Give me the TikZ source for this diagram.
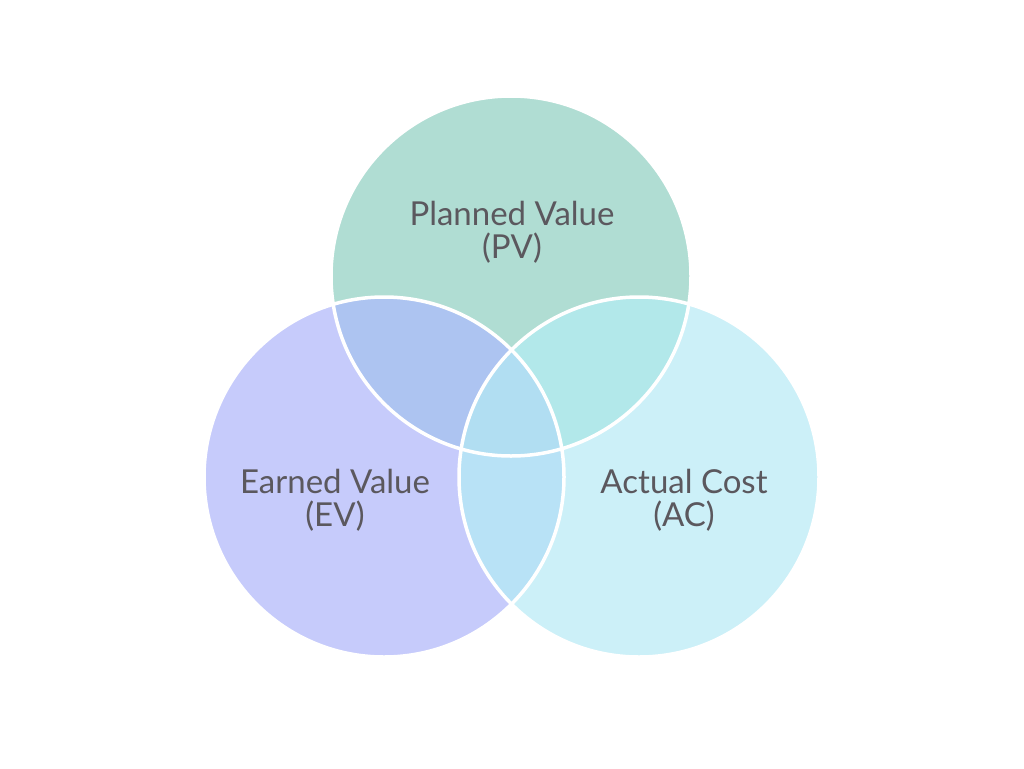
\documentclass[tikz,border=0pt]{standalone}
\usepackage{fontspec}
\setmainfont{Lato}
\definecolor{cTop}{HTML}{B0DDD3}
\definecolor{cLeft}{HTML}{C6CBFB}
\definecolor{cRight}{HTML}{CCF0F8}
\definecolor{cTL}{HTML}{ADC4F1}
\definecolor{cTR}{HTML}{B2E8EA}
\definecolor{cLR}{HTML}{B8E2F6}
\definecolor{cC}{HTML}{B1DEF2}
\definecolor{txt}{HTML}{5B585E}
\begin{document}
\begin{tikzpicture}[x=1pt,y=-1pt,
  lbl/.style={text=txt,font=\fontsize{33}{33}\selectfont,align=center,inner sep=0pt},
  ring/.style={draw=white,line width=3.5pt}]
\useasboundingbox[fill=white] (0,0) rectangle (1024,768);
\coordinate (T) at (511,276);
\coordinate (L) at (384,477);
\coordinate (R) at (639,477);
\def\rr{180}
\fill[cTop] (T) circle[radius=\rr];
\fill[cLeft] (L) circle[radius=\rr];
\fill[cRight] (R) circle[radius=\rr];
\begin{scope}
  \clip (T) circle[radius=\rr];
  \fill[cTL] (L) circle[radius=\rr];
  \fill[cTR] (R) circle[radius=\rr];
\end{scope}
\begin{scope}
  \clip (L) circle[radius=\rr];
  \fill[cLR] (R) circle[radius=\rr];
  \clip (R) circle[radius=\rr];
  \fill[cC] (T) circle[radius=\rr];
\end{scope}
\draw[ring] (T) circle[radius=\rr];
\draw[ring] (L) circle[radius=\rr];
\draw[ring] (R) circle[radius=\rr];
\node[lbl] (pv) at (512,232) {Planned Value\\(PV)};
\node[lbl] (ev) at (335,500) {Earned Value\\(EV)};
\node[lbl] (ac) at (684,500) {Actual Cost\\(AC)};
\end{tikzpicture}
\end{document}
